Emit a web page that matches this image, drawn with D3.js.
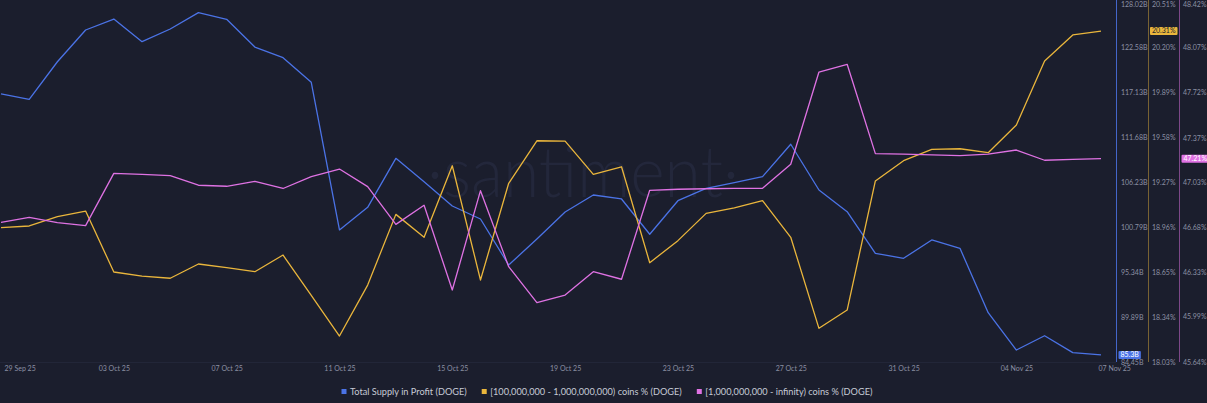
<!DOCTYPE html>
<html>
<head>
<meta charset="utf-8">
<script src="https://cdn.jsdelivr.net/npm/d3@7/dist/d3.min.js"></script>
<style>
	html, body { margin: 0; padding: 0; background: #1b1e2d; overflow: hidden; }
	svg { display: block; font-family: Lato, 'Open Sans', sans-serif; }
</style>
</head>
<body>
<div id="chart"></div>
<script>
// daily points, 29 Sep 25 .. 07 Nov 25
var dates = [
	'2025-09-29', '2025-09-30', '2025-10-01', '2025-10-02', '2025-10-03', '2025-10-04', '2025-10-05', '2025-10-06',
	'2025-10-07', '2025-10-08', '2025-10-09', '2025-10-10', '2025-10-11', '2025-10-12', '2025-10-13', '2025-10-14',
	'2025-10-15', '2025-10-16', '2025-10-17', '2025-10-18', '2025-10-19', '2025-10-20', '2025-10-21', '2025-10-22',
	'2025-10-23', '2025-10-24', '2025-10-25', '2025-10-26', '2025-10-27', '2025-10-28', '2025-10-29', '2025-10-30',
	'2025-10-31', '2025-11-01', '2025-11-02', '2025-11-03', '2025-11-04', '2025-11-05', '2025-11-06', '2025-11-07'
];

// Total Supply in Profit (DOGE), billions
var supplyInProfit = [
	116.89, 116.24, 120.79, 124.63, 125.96, 123.22, 124.75, 126.73, 125.93, 122.57,
	121.28, 118.30, 100.43, 103.17, 109.10, 106.27, 103.33, 101.76, 96.19, 99.34,
	102.60, 104.66, 104.18, 99.91, 103.97, 105.47, 106.15, 106.88, 110.80, 105.27,
	102.64, 97.61, 97.00, 99.22, 98.21, 90.42, 85.90, 87.63, 85.58, 85.30
];

// [100,000,000 - 1,000,000,000) coins %
var coins100mTo1b = [
	18.955, 18.967, 19.031, 19.070, 18.650, 18.622, 18.607, 18.705, 18.680, 18.652,
	18.767, 18.489, 18.209, 18.560, 19.047, 18.889, 19.382, 18.595, 19.261, 19.554,
	19.552, 19.323, 19.375, 18.714, 18.866, 19.054, 19.091, 19.141, 18.889, 18.262,
	18.388, 19.277, 19.417, 19.495, 19.499, 19.472, 19.663, 20.104, 20.283, 20.31
];

// [1,000,000,000 - infinity) coins %
var coins1bPlus = [
	46.719, 46.757, 46.716, 46.693, 47.097, 47.089, 47.079, 47.005, 46.997, 47.035,
	46.980, 47.071, 47.130, 46.994, 46.703, 46.850, 46.196, 46.963, 46.376, 46.098,
	46.157, 46.337, 46.279, 46.966, 46.974, 46.978, 46.981, 46.981, 47.167, 47.879,
	47.939, 47.249, 47.246, 47.239, 47.233, 47.246, 47.277, 47.198, 47.205, 47.21
];

var supplyTicks = [84.45, 89.89, 95.34, 100.79, 106.23, 111.68, 117.13, 122.58, 128.02];
var coins100mTicks = [18.03, 18.34, 18.65, 18.96, 19.27, 19.58, 19.89, 20.20, 20.51];
var coins1bTicks = [45.64, 45.99, 46.33, 46.68, 47.03, 47.37, 47.72, 48.07, 48.42];

var xTickDates = [
	'2025-09-29', '2025-10-03', '2025-10-07', '2025-10-11', '2025-10-15', '2025-10-19',
	'2025-10-23', '2025-10-27', '2025-10-31', '2025-11-04', '2025-11-07'
];

var seriesNames = [
	'Total Supply in Profit (DOGE)',
	'[100,000,000 - 1,000,000,000) coins % (DOGE)',
	'[1,000,000,000 - infinity) coins % (DOGE)'
];
var seriesColors = ['#4b73e6', '#eab63c', '#df72e3'];

var W = 1207, H = 403;
var plot = {left: 1, right: 1101, top: 2, bottom: 362};

var parseDay = d3.utcParse('%Y-%m-%d'),
	fmtDay   = d3.utcFormat('%d %b %y');

var svg = d3.select('#chart').append('svg')
	.attr('width', W)
	.attr('height', H);

svg.append('rect')
	.attr('width', W).attr('height', H)
	.attr('fill', '#1b1e2d');

// watermark
svg.append('text')
	.attr('x', 583).attr('y', 197)
	.attr('text-anchor', 'middle')
	.attr('font-size', 70)
	.attr('font-weight', 300)
	.attr('fill', '#23273b')
	.attr('textLength', 312)
	.attr('lengthAdjust', 'spacingAndGlyphs')
	.text('\u00b7santiment\u00b7');

// bottom rule of plot area
svg.append('line')
	.attr('x1', 0).attr('x2', 1116)
	.attr('y1', plot.bottom + 0.5).attr('y2', plot.bottom + 0.5)
	.attr('stroke', '#222638');

var xScale = d3.scaleUtc()
	.domain([parseDay(dates[0]), parseDay(dates[dates.length - 1])])
	.range([plot.left, plot.right]);

var yScales = [
	d3.scaleLinear().domain([supplyTicks[0], supplyTicks[supplyTicks.length - 1]]).range([plot.bottom, plot.top]),
	d3.scaleLinear().domain([coins100mTicks[0], coins100mTicks[coins100mTicks.length - 1]]).range([plot.bottom, plot.top]),
	d3.scaleLinear().domain([coins1bTicks[0], coins1bTicks[coins1bTicks.length - 1]]).range([plot.bottom, plot.top])
];
var seriesData = [supplyInProfit, coins100mTo1b, coins1bPlus];
var tickSets   = [supplyTicks, coins100mTicks, coins1bTicks];
var axisX      = [1116, 1148, 1179];
var axisOpac   = [0.85, 0.45, 0.5];
var formats    = [
	function(d) { return d.toFixed(2) + 'B'; },
	function(d) { return d.toFixed(2) + '%'; },
	function(d) { return d.toFixed(2) + '%'; }
];
var badgeText  = [
	function(d) { return d.toFixed(1) + 'B'; },
	function(d) { return d.toFixed(2) + '%'; },
	function(d) { return d.toFixed(2) + '%'; }
];
var badgeInk   = ['#ffffff', '#1b1e2d', '#ffffff'];

// x axis
var xAxis = d3.axisBottom(xScale)
	.tickValues(xTickDates.map(parseDay))
	.tickSize(0)
	.tickPadding(0)
	.tickFormat(fmtDay);

var gx = svg.append('g')
	.attr('transform', 'translate(0,' + 369 + ')')
	.call(xAxis);
gx.select('.domain').remove();
gx.selectAll('text')
	.attr('dy', '0.32em')
	.attr('y', 0)
	.attr('font-size', 7)
	.attr('font-family', 'Lato, sans-serif')
	.attr('fill', '#8b90a3')
	.attr('text-anchor', function(d, i) {
		if (i === 0) return 'start';
		if (i === xTickDates.length - 1) return 'start';
		return 'middle';
	})
	.attr('dx', function(d, i) {
		if (i === 0) return 3;
		if (i === xTickDates.length - 1) return -3;
		return 0;
	});

// lines
var line = d3.line()
	.x(function(d, i) { return xScale(parseDay(dates[i])); });

seriesData.forEach(function(values, s) {
	line.y(function(d) { return yScales[s](d); });
	svg.append('path')
		.datum(values)
		.attr('fill', 'none')
		.attr('stroke', seriesColors[s])
		.attr('stroke-width', 1.3)
		.attr('stroke-linejoin', 'round')
		.attr('d', line);
});

// right axes
seriesData.forEach(function(values, s) {
	var g = svg.append('g')
		.attr('transform', 'translate(' + axisX[s] + ',0)');

	g.append('line')
		.attr('x1', 0.5).attr('x2', 0.5)
		.attr('y1', 0).attr('y2', plot.bottom)
		.attr('stroke', seriesColors[s])
		.attr('stroke-opacity', axisOpac[s]);

	var ax = d3.axisRight(yScales[s])
		.tickValues(tickSets[s])
		.tickSize(0)
		.tickPadding(s === 0 ? 5 : 4)
		.tickFormat(formats[s]);
	var ga = g.append('g').call(ax);
	ga.select('.domain').remove();
	ga.selectAll('text')
		.attr('font-size', 7)
		.attr('font-family', 'Lato, sans-serif')
		.attr('fill', '#8b90a3');
	// keep the top label inside the frame
	ga.selectAll('.tick').filter(function(d, i) { return i === tickSets[s].length - 1; })
		.select('text').attr('y', 2.5);

	// last value badge
	var last = values[values.length - 1],
		by = yScales[s](last),
		bx = s === 0 ? 2.5 : (s === 1 ? 2 : 2.5);
	var badge = g.append('g').attr('transform', 'translate(' + bx + ',' + by + ')');
	var bt = badge.append('text')
		.attr('x', 2).attr('dy', '0.34em')
		.attr('font-size', 7)
		.attr('fill', badgeInk[s])
		.text(badgeText[s](last));
	var bw = bt.node().getComputedTextLength();
	badge.insert('rect', 'text')
		.attr('x', 0).attr('y', -4)
		.attr('width', bw + 4).attr('height', 8)
		.attr('rx', 1)
		.attr('fill', seriesColors[s]);
});

// legend
var legend = svg.append('g').attr('transform', 'translate(0,391.5)');
var lx = 341.5;
seriesNames.forEach(function(name, s) {
	legend.append('rect')
		.attr('x', lx).attr('y', -2.5)
		.attr('width', 5).attr('height', 5)
		.attr('fill', seriesColors[s]);
	var t = legend.append('text')
		.attr('x', lx + 8.5).attr('dy', '0.34em')
		.attr('font-size', 9.2)
		.attr('fill', '#c6cad6')
		.text(name);
	lx += 8.5 + t.node().getComputedTextLength() + 15;
});
</script>
</body>
</html>
